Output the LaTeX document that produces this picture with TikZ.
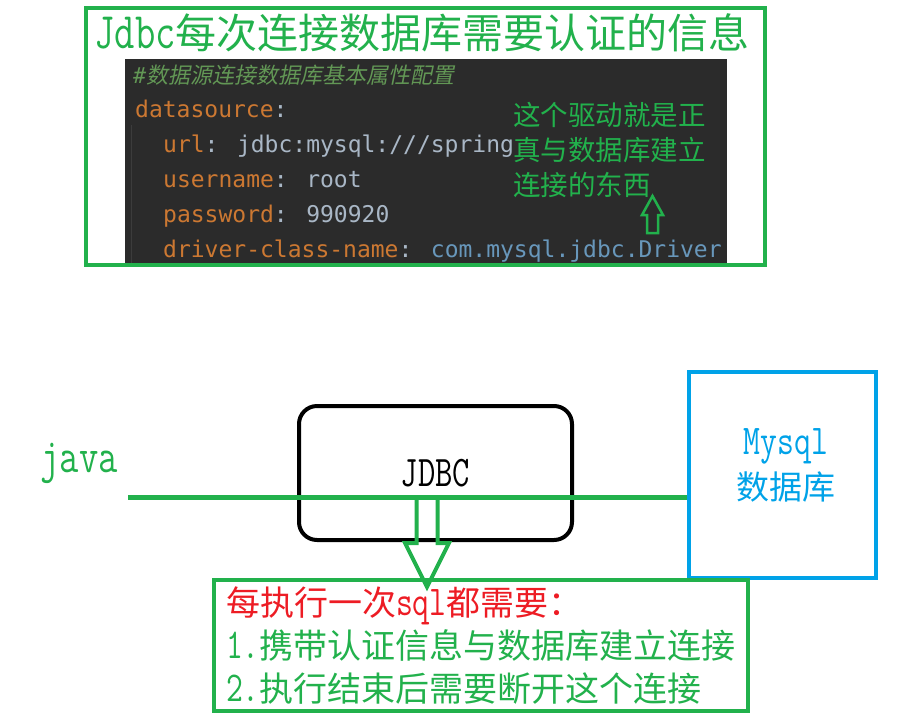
\documentclass[tikz,border=0pt]{standalone}
\usepackage{fontspec}
\usetikzlibrary{positioning,calc}
\newfontfamily\cjk{Noto Sans CJK SC}
\newfontfamily\cjkslant[FakeSlant=0.2]{Noto Sans CJK SC}
\newfontfamily\simlatin[FakeStretch=0.77,Scale=1.25]{Latin Modern Mono}
\newfontfamily\codefont{DejaVu Sans Mono}
\newcommand\pxsize[1]{\fontsize{#1}{#1}\selectfont}
\definecolor{PaintGreen}{HTML}{22B14C}
\definecolor{PaintBlue}{HTML}{00A2E8}
\definecolor{PaintRed}{HTML}{ED1C24}
\definecolor{CodeBg}{HTML}{2B2B2B}
\definecolor{KeyOrange}{HTML}{CC7832}
\definecolor{ValGray}{HTML}{A9B7C6}
\definecolor{StrBlue}{HTML}{6897BB}
\definecolor{CmtGreen}{HTML}{629755}

\begin{document}
\begin{tikzpicture}[x=1pt,y=-1pt,
    gbox/.style={draw=PaintGreen,line width=4pt,inner sep=0pt},
    code/.style={anchor=base west,inner sep=0pt,font=\codefont\pxsize{23}},
    gline/.style={PaintGreen,line width=5pt},
    hollow/.style={draw=PaintGreen,line join=miter}
  ]
    \useasboundingbox (0,0) rectangle (920,718);
    % config snippet
    \node[fill=CodeBg,minimum width=602,minimum height=206,inner sep=0pt] (codebg) at (426,162) {};
    \draw[color={rgb,255:red,60;green,60;blue,60},line width=1pt] (131,125) -- (131,265);
    \node[gbox,minimum width=679,minimum height=257] (frame) at (425.5,136.5) {};
    \node[text=PaintGreen,font=\cjk\pxsize{41}] (title) at (422,33)
      {{\simlatin Jdbc}每次连接数据库需要认证的信息};
    \node[anchor=base west,inner sep=0pt,text=CmtGreen,font=\cjkslant\pxsize{22}] (cmt) at (133,83)
      {{\codefont\itshape\#}数据源连接数据库基本属性配置};
    \node[code] (kds) at (135,117) {\color{KeyOrange}datasource\color{ValGray}:};
    \node[code] (kurl) at (163,152) {\color{KeyOrange}url\color{ValGray}: jdbc:mysql:///spring};
    \node[code] (kuser) at (163,187) {\color{KeyOrange}username\color{ValGray}: root};
    \node[code] (kpass) at (163,222) {\color{KeyOrange}password\color{ValGray}: 990920};
    \node[code] (kdrv) at (163,257) {\color{KeyOrange}driver-class-name\color{ValGray}: \color{StrBlue}com.mysql.jdbc.Driver};
    \node[anchor=north west,inner sep=0pt,align=left,text=PaintGreen,font=\cjk\fontsize{27.5}{35}\selectfont] (drvnote) at (513,102)
      {这个驱动就是正\\真与数据库建立\\连接的东西};
    \coordinate (upbase) at (652.5,233);
    \draw[hollow,line width=2.5pt] (upbase) ++(-5.5,0) -- ++(0,-18) -- ++(-5,0) -- ++(10.5,-19)
      -- ++(10.5,19) -- ++(-5,0) -- ++(0,18) -- cycle;
    % connection picture
    \node[draw=black,line width=4pt,rounded corners=18pt,minimum width=273,minimum height=134,
      font=\simlatin\pxsize{35}] (jdbc) at (435.5,473) {JDBC};
    \node[draw=PaintBlue,line width=4pt,minimum width=187,minimum height=206] (mysql) at (782.5,475) {};
    \node[text=PaintBlue,align=center,font=\cjk\fontsize{33}{45}\selectfont] (mysqltxt) at (786,465)
      {{\simlatin\pxsize{34}Mysql}\\数据库};
    \node[text=PaintGreen,font=\simlatin\pxsize{39}] (java) at (79,463) {java};
    \coordinate (jstart) at (128,497);
    \draw[gline] (jstart) -- (jstart -| mysql.west);
    \coordinate (dtop) at (427,497);
    \draw[hollow,line width=4pt] (dtop) ++(-10.5,0) -- ++(0,46) -- ++(-11.5,0) -- ++(22,44)
      -- ++(22,-44) -- ++(-11.5,0) -- ++(0,-46);
    \node[gbox,minimum width=534,minimum height=131,text width=510,align=left,
      font=\cjk\fontsize{34}{43}\selectfont] (need) at (481,645.5)
      {\textcolor{PaintRed}{每执行一次{\simlatin sql}都需要：}\\
       \textcolor{PaintGreen}{{\simlatin 1.}携带认证信息与数据库建立连接}\\
       \textcolor{PaintGreen}{{\simlatin 2.}执行结束后需要断开这个连接}};
  \end{tikzpicture}
\end{document}
